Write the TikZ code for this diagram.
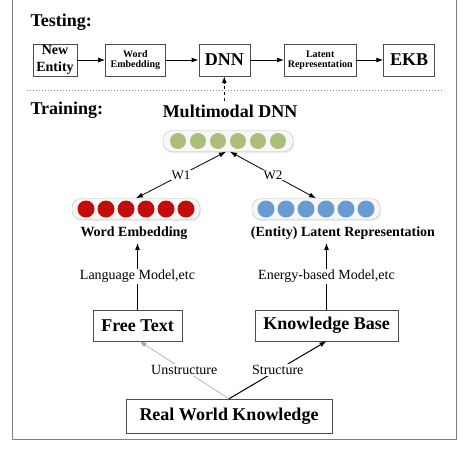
\documentclass[tikz,border=0pt]{standalone}
\usepackage{fontspec}
\setmainfont{Liberation Serif}
\usepackage{xcolor}
\usepackage{tikz}
\usetikzlibrary{shapes,arrows.meta,positioning,shadows}

\definecolor{unitgreen}{RGB}{170,190,122}
\definecolor{unitred}{RGB}{194,12,10}
\definecolor{unitblue}{RGB}{104,155,210}
\newcommand{\fsz}[1]{\fontsize{#1}{#1}\selectfont}

\begin{document}
\begin{tikzpicture}[x=1pt, y=-1pt,
	box/.style={rectangle, draw=black!70, inner sep=0pt, align=center},
	layer/.style={rectangle, rounded corners=9pt, draw=black!25, fill=black!3, minimum width=128pt, minimum height=21pt, drop shadow={opacity=0.15, shadow xshift=1pt, shadow yshift=-1.5pt}},
	unit/.style={circle, inner sep=0pt, minimum size=17pt},
	arr/.style={-{Latex[length=7pt, width=5pt]}, line width=1pt},
	lbl/.style={fill=white, inner sep=1pt, font=\fsz{14}}]
				\useasboundingbox (0,0) rectangle (474,466);
				\draw[black!50] (12,-5) rectangle (456,439);
				
				% testing
				\node[anchor=west, font=\fsz{18}\bfseries] (testing) at (27,22) {Testing:};
				\node[box, minimum width=44pt, minimum height=32pt, font=\fontsize{14}{17}\selectfont\bfseries] (newent) at (55,60) {New\\Entity};
				\node[box, minimum width=60pt, minimum height=32pt, font=\fsz{10}\bfseries, right=28pt of newent] (wordemb) {Word\\Embedding};
				\node[box, minimum width=51pt, minimum height=32pt, font=\fsz{18}\bfseries, right=33pt of wordemb] (dnn) {DNN};
				\node[box, minimum width=72pt, minimum height=32pt, font=\fsz{10}\bfseries, right=34pt of dnn] (latrep) {Latent\\Representation};
				\node[box, minimum width=51pt, minimum height=32pt, font=\fsz{18}\bfseries, right=27pt of latrep] (ekb) {EKB};
				
				\draw[arr] (newent) -- (wordemb);
				\draw[arr] (wordemb) -- (dnn);
				\draw[arr] (dnn) -- (latrep);
				\draw[arr] (latrep) -- (ekb);
				
				\draw[black!45, dotted, line width=1pt] (27,90) -- (443,90);
				
				% training
				\node[anchor=west, font=\fsz{18}\bfseries] (training) at (27,110) {Training:};
				\node[font=\fsz{18}\bfseries] (mmlabel) at (230,111) {Multimodal DNN};
				\draw[arr, dashed] (mmlabel.north -| dnn.south) -- (dnn.south);
				
				\node[layer, minimum width=130pt] (mmlayer) at (228,141) {};
				\node[layer] (wlayer) at (136,209) {};
				\node[layer] (elayer) at (316,209) {};
				\foreach \i in {1,...,6} {
					\node[unit, fill=unitgreen, minimum size=16pt, xshift={(\i-3.5)*20pt}] (g\i) at (mmlayer) {};
					\node[unit, fill=unitred, xshift={(\i-3.5)*20pt}] (r\i) at (wlayer) {};
					\node[unit, fill=unitblue, xshift={(\i-3.5)*20pt}] (b\i) at (elayer) {};
				}
				
				\node[font=\fsz{14}\bfseries] (wlabel) at (134,233) {Word Embedding};
				\node[font=\fsz{14}\bfseries] (elabel) at (343,233) {(Entity) Latent Representation};
				
				\draw[{Latex[length=7pt, width=5pt]}-{Latex[length=7pt, width=5pt]}, line width=0.8pt] (wlayer.north) -- node[lbl, font=\fsz{13}] {W1} ([xshift=-2pt]mmlayer.south);
				\draw[{Latex[length=7pt, width=5pt]}-{Latex[length=7pt, width=5pt]}, line width=0.8pt] ([xshift=2pt]mmlayer.south) -- node[lbl, font=\fsz{13}] {W2} (elayer.north);
				
				\node[box, minimum width=89pt, minimum height=31pt, font=\fsz{18}\bfseries] (ftext) at (137.5,325.5) {Free Text};
				\node[box, minimum width=143pt, minimum height=31pt, font=\fsz{18}\bfseries] (kbase) at (326.5,325.5) {Knowledge Base};
				\node[box, minimum width=206pt, minimum height=34pt, font=\fsz{18}\bfseries] (rwk) at (229,416) {Real World Knowledge};
				
				\draw[arr] (ftext.north) -- node[lbl] {Language Model,etc} (ftext.north |- wlabel.south);
				\draw[arr] (kbase.north) -- node[lbl] {Energy-based Model,etc} (kbase.north |- elabel.south);
				
				\draw[-{Latex[length=7pt, width=5pt]}, black!35, line width=0.6pt] (rwk.north) -- node[lbl, text=black] {Unstructure} ([xshift=2pt]ftext.south);
				\draw[arr] (rwk.north) -- node[lbl] {Structure} (kbase.south);
			\end{tikzpicture}
\end{document}
